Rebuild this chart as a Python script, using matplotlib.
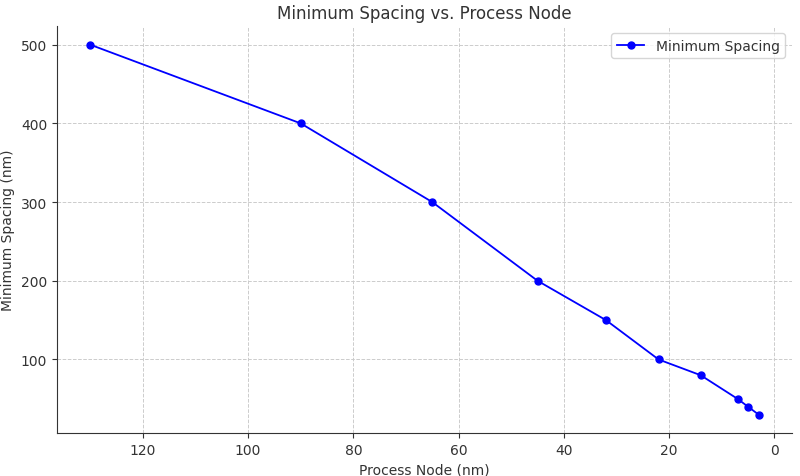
import matplotlib
matplotlib.use("Agg")
import matplotlib.pyplot as plt

nodes = [130, 90, 65, 45, 32, 22, 14, 7, 5, 3]
spacing = [500, 400, 300, 200, 150, 100, 80, 50, 40, 30]

tc = "#333333"
fig = plt.figure(figsize=(8, 4.77), dpi=100)
ax = fig.add_axes([0.071, 0.09, 0.919, 0.853])
ax.plot(nodes, spacing, marker="o", color="blue", markersize=5, linewidth=1.3, label="Minimum Spacing")
ax.invert_xaxis()
ax.grid(True, linestyle="--", color="#cccccc", linewidth=0.7)
for s in ["top", "right"]:
    ax.spines[s].set_visible(False)
for s in ["left", "bottom"]:
    ax.spines[s].set_color(tc)
ax.tick_params(colors=tc, labelsize=10)
ax.set_xlabel("Process Node (nm)", color=tc, fontsize=10)
ax.set_ylabel("Minimum Spacing (nm)", color=tc, fontsize=10)
ax.set_title("Minimum Spacing vs. Process Node", color=tc, fontsize=12)
leg = ax.legend(loc="upper right", fontsize=10)
for t in leg.get_texts():
    t.set_color(tc)
fig.savefig("out.png", dpi=100)
